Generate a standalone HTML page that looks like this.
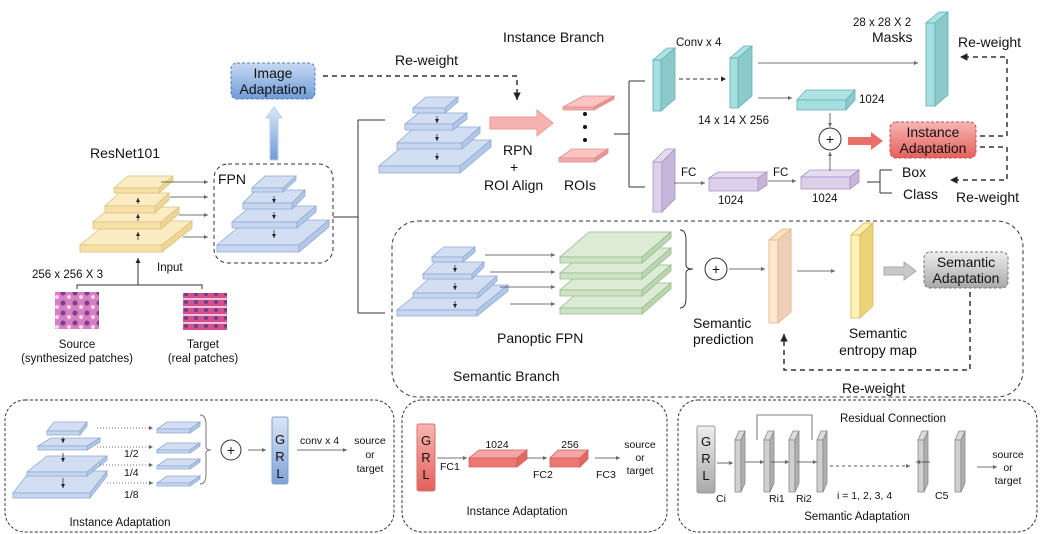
<!DOCTYPE html>
<html><head><meta charset="utf-8"><style>
html,body{margin:0;padding:0;background:#fff;width:1043px;height:534px;overflow:hidden}
svg text{font-family:"Liberation Sans",Arial,sans-serif;fill:#111}
</style></head><body>
<svg id="s" width="1043" height="534" viewBox="0 0 1043 534" xmlns="http://www.w3.org/2000/svg">
<defs>
<marker id="a" markerWidth="6" markerHeight="6" refX="5" refY="3" orient="auto"><path d="M0,0.5 L5,3 L0,5.5z" fill="#222"/></marker>
<marker id="ag" markerWidth="6" markerHeight="6" refX="5" refY="3" orient="auto"><path d="M0,0.5 L5,3 L0,5.5z" fill="#666"/></marker>
<linearGradient id="gb" x1="0" y1="0" x2="0" y2="1"><stop offset="0" stop-color="#c7d9f3"/><stop offset="1" stop-color="#6f9bd6"/></linearGradient>
<linearGradient id="gr" x1="0" y1="0" x2="0" y2="1"><stop offset="0" stop-color="#f7b5b2"/><stop offset="1" stop-color="#e4605c"/></linearGradient>
<linearGradient id="gg" x1="0" y1="0" x2="0" y2="1"><stop offset="0" stop-color="#eeeeee"/><stop offset="1" stop-color="#a8a8a8"/></linearGradient>
<linearGradient id="gbar" x1="0" y1="0" x2="0" y2="1"><stop offset="0" stop-color="#dbe6f6"/><stop offset="1" stop-color="#7ea2d6"/></linearGradient>
<linearGradient id="gy" x1="0" y1="0" x2="0" y2="1"><stop offset="0" stop-color="#fff3c4"/><stop offset="1" stop-color="#f3cd4e"/></linearGradient>
<linearGradient id="gup" x1="0" y1="0" x2="0" y2="1"><stop offset="0" stop-color="#dbe7f7"/><stop offset="1" stop-color="#6f9bd6"/></linearGradient>
<pattern id="p1" width="12" height="10" patternUnits="userSpaceOnUse"><rect width="12" height="10" fill="#d77fc0"/><circle cx="3" cy="3" r="2.5" fill="#7a3f8f"/><circle cx="9" cy="7" r="2" fill="#f4d5ee"/></pattern>
<pattern id="p2" width="10" height="8" patternUnits="userSpaceOnUse"><rect width="10" height="8" fill="#d2508f"/><rect y="2" width="10" height="2" fill="#f5bfd6"/><circle cx="6" cy="6" r="2" fill="#6c3f8a"/></pattern>
</defs>
<g id="shapes"></g>
<g fill="none" stroke="#333" stroke-width="1">
<!-- dashed boxes -->
<rect x="392" y="221" width="631" height="176" rx="26" stroke-dasharray="4,3"/>
<rect x="5" y="400" width="389" height="132" rx="20" stroke-dasharray="3,2"/>
<rect x="402" y="400" width="265" height="132" rx="20" stroke-dasharray="3,2"/>
<rect x="678" y="400" width="359" height="132" rx="20" stroke-dasharray="3,2"/>
<rect x="214" y="164" width="119" height="99" rx="14" stroke-dasharray="4,3"/>
<!-- lines -->
<path d="M333 217 H358 M358 120 V313 M358 120 H385 M358 313 H385"/>
<path d="M614 134 H629 M629 81 V187 M629 81 H645 M629 187 H645"/>
<path d="M867 182 H880 M880 170 V193 M880 170 H892 M880 193 H892"/>
<path d="M77 289 V285 H202 V289 M138 285 V258" marker-end="url(#a)"/>
<path d="M323 76 H517 V100" stroke-dasharray="5,4" stroke-width="1.5" marker-end="url(#a)"/>
<path d="M980 136 H1007 V57 H960" stroke-dasharray="5,4" stroke-width="1.5" marker-end="url(#a)"/>
<path d="M980 147 H1007 V180 H950" stroke-dasharray="5,4" stroke-width="1.5" marker-end="url(#a)"/>
<path d="M970 292 V370 H784 V334" stroke-dasharray="5,4" stroke-width="1.5" marker-end="url(#a)"/>
<path d="M679 79 H726" stroke-dasharray="4,3" marker-end="url(#a)"/>
<path d="M680 230 Q686 230 686 240 V265 Q686 269 693 269 Q686 269 686 273 V298 Q686 308 680 308"/>
<path d="M200 415 Q206 415 206 425 V447 Q206 450 211 450 Q206 450 206 453 V474 Q206 484 200 484" stroke="#777"/>
<path d="M757 440 V415 H812 V440" stroke="#555" stroke-width="0.8"/>
</g>
<g stroke="#444" stroke-width="0.8" fill="none" marker-end="url(#ag)">
<path d="M161 182 H208"/><path d="M170 197 H208"/><path d="M179 215 H208"/><path d="M183 237 H208"/>
<path d="M758 63 H918"/><path d="M758 98 H792"/><path d="M830 113 V127"/><path d="M830 171 V152"/>
<path d="M674 183 H705"/><path d="M768 181 H796"/>
<path d="M485 255 H555"/><path d="M490 272 H555"/><path d="M500 287 H555"/><path d="M510 304 H555"/>
<path d="M729 269 H765"/><path d="M797 271 H835"/>
<path d="M248 450 H266"/><path d="M297 450 H347"/>
<path d="M437 458 H467"/><path d="M527 458 H547"/><path d="M595 458 H620"/>
<path d="M717 463 H733"/><path d="M745 462 H764"/><path d="M771 462 H789"/><path d="M797 462 H817"/><path d="M930 462 H916"/><path d="M977 467 H997"/>
<path d="M97 428 H153" stroke-dasharray="1,2"/><path d="M97 447 H153" stroke-dasharray="1,2"/><path d="M100 465 H153" stroke-dasharray="1,2"/><path d="M107 483 H153" stroke-dasharray="1,2"/>
<path d="M830 466 H910" stroke-dasharray="3,3" stroke="#222"/>
</g>
<!-- plus circles -->
<g fill="#fff" stroke="#333"><circle cx="830" cy="139" r="11"/><circle cx="716" cy="269" r="11"/><circle cx="231" cy="450" r="10"/></g>
<g font-size="14" text-anchor="middle"><text x="830" y="144">+</text><text x="716" y="274">+</text><text x="231" y="455">+</text></g>
<!-- big arrows -->
<path d="M490 117 H537 V110 L553 123 L537 136 V129 H490z" fill="#f5b3b0" stroke="#eb9a96"/>
<path d="M848 137 H871 V132 L883 141 L871 150 V145 H848z" fill="#ec6e68"/>
<path d="M884 267 H904 V262 L916 271 L904 280 V275 H884z" fill="#c8c8c8" stroke="#aaa"/>
<path d="M270 160 V118 H266 L274 107 L282 118 H278 V160z" fill="url(#gup)" stroke="#b9cde9"/>
<!-- adaptation boxes -->
<rect x="231" y="63" width="84" height="36" rx="6" fill="url(#gb)" stroke="#5a7fb5" stroke-dasharray="3,2"/>
<rect x="890" y="122" width="86" height="36" rx="6" fill="url(#gr)" stroke="#c94a46" stroke-dasharray="3,2"/>
<rect x="924" y="252" width="84" height="36" rx="6" fill="url(#gg)" stroke="#777" stroke-dasharray="3,2"/>
<!-- patches -->
<rect x="55" y="292" width="44" height="37" fill="url(#p1)"/>
<rect x="183" y="293" width="44" height="37" fill="url(#p2)"/>
<!-- GRL bars -->
<rect x="272" y="417" width="16" height="67" rx="2" fill="url(#gbar)" stroke="#7f9fcf"/>
<rect x="417" y="424" width="18" height="67" rx="2" fill="url(#gr)" stroke="#d9716c"/>
<rect x="697" y="426" width="18" height="67" rx="2" fill="url(#gg)" stroke="#999"/>
<!-- ROI dots -->
<g fill="#111"><circle cx="585" cy="114" r="2"/><circle cx="585" cy="127" r="2"/><circle cx="585" cy="140" r="2"/></g>
<!-- text -->
<g font-size="14">
<text x="503" y="42">Instance Branch</text>
<text x="395" y="65">Re-weight</text>
<text x="90" y="158">ResNet101</text>
<text x="218" y="184">FPN</text>
<text x="503" y="155">RPN</text>
<text x="510" y="172">+</text>
<text x="484" y="190">ROI Align</text>
<text x="564" y="190">ROIs</text>
<text x="872" y="42">Masks</text>
<text x="958" y="47">Re-weight</text>
<text x="902" y="177">Box</text>
<text x="903" y="199">Class</text>
<text x="956" y="202">Re-weight</text>
<text x="497" y="343">Panoptic FPN</text>
<text x="453" y="381">Semantic Branch</text>
<text x="693" y="328">Semantic</text>
<text x="693" y="344">prediction</text>
<text x="878" y="338" text-anchor="middle">Semantic</text>
<text x="878" y="355" text-anchor="middle">entropy map</text>
<text x="842" y="393">Re-weight</text>
<text x="273" y="78" text-anchor="middle">Image</text>
<text x="273" y="94" text-anchor="middle">Adaptation</text>
<text x="933" y="137" text-anchor="middle" fill="#222">Instance</text>
<text x="933" y="153" text-anchor="middle" fill="#222">Adaptation</text>
<text x="966" y="267" text-anchor="middle">Semantic</text>
<text x="966" y="283" text-anchor="middle">Adaptation</text>
</g>
<g font-size="11.5">
<text x="676" y="46">Conv x 4</text>
<text x="698" y="124">14 x 14 X 256</text>
<text x="859" y="103">1024</text>
<text x="853" y="26">28 x 28 X 2</text>
<text x="681" y="176">FC</text><text x="773" y="176">FC</text>
<text x="718" y="204">1024</text><text x="812" y="202">1024</text>
<text x="157" y="271">Input</text>
<text x="32" y="278">256 x 256 X 3</text>
<text x="77" y="348" text-anchor="middle">Source</text>
<text x="77" y="362" text-anchor="middle">(synthesized patches)</text>
<text x="203" y="348" text-anchor="middle">Target</text>
<text x="203" y="362" text-anchor="middle">(real patches)</text>
<text x="120" y="526" text-anchor="middle">Instance Adaptation</text>
<text x="517" y="515" text-anchor="middle">Instance Adaptation</text>
<text x="857" y="520" text-anchor="middle">Semantic Adaptation</text>
<text x="893" y="422" text-anchor="middle">Residual Connection</text>
</g>
<g font-size="10.5">
<text x="124" y="457">1/2</text><text x="124" y="476">1/4</text><text x="124" y="498">1/8</text>
<text x="300" y="444">conv x 4</text>
<text x="370" y="444" text-anchor="middle">source</text><text x="370" y="458" text-anchor="middle">or</text><text x="370" y="472" text-anchor="middle">target</text>
<text x="497" y="448" text-anchor="middle">1024</text><text x="570" y="448" text-anchor="middle">256</text>
<text x="440" y="470">FC1</text><text x="533" y="478">FC2</text><text x="596" y="478">FC3</text>
<text x="640" y="448" text-anchor="middle">source</text><text x="640" y="461" text-anchor="middle">or</text><text x="640" y="474" text-anchor="middle">target</text>
<text x="1008" y="458" text-anchor="middle">source</text><text x="1008" y="471" text-anchor="middle">or</text><text x="1008" y="484" text-anchor="middle">target</text>
<text x="716" y="502">Ci</text><text x="769" y="502">Ri1</text><text x="796" y="502">Ri2</text>
<text x="837" y="499">i = 1, 2, 3, 4</text><text x="935" y="499">C5</text>
</g>
<g font-size="13" text-anchor="middle">
<text x="280" y="444">G</text><text x="280" y="461">R</text><text x="280" y="478">L</text>
<text x="426" y="445">G</text><text x="426" y="462">R</text><text x="426" y="479">L</text>
<text x="706" y="446">G</text><text x="706" y="463">R</text><text x="706" y="480">L</text>
</g>
</svg>
<script>
var g=document.getElementById('shapes'),NS='http://www.w3.org/2000/svg';
function P(pts,f,s){var p=document.createElementNS(NS,'polygon');p.setAttribute('points',pts.map(function(a){return a.join(',')}).join(' '));p.setAttribute('fill',f);p.setAttribute('stroke',s);p.setAttribute('stroke-width','0.8');g.appendChild(p);}
function S(x,y,w,h,dx,dy,c){P([[x,y],[x+w,y],[x+w+dx,y-dy],[x+dx,y-dy]],c[0],c[3]);P([[x,y],[x+w,y],[x+w,y+h],[x,y+h]],c[1],c[3]);P([[x+w,y],[x+w+dx,y-dy],[x+w+dx,y-dy+h],[x+w,y+h]],c[2],c[3]);}
function A(x1,y1,x2,y2){var l=document.createElementNS(NS,'line');l.setAttribute('x1',x1);l.setAttribute('y1',y1);l.setAttribute('x2',x2);l.setAttribute('y2',y2);l.setAttribute('stroke','#333');l.setAttribute('stroke-width','0.8');l.setAttribute('marker-end','url(#a)');g.appendChild(l);}
var Y=['#fbecc4','#f6e0a8','#eed596','#d9c27e'],B=['#d2def2','#c6d6ef','#b3c7e6','#8fa9d3'],G=['#dcebd4','#cfe3c6','#bcd6b1','#96b98a'],R=['#f9c4c2','#f3aaa7','#e89592','#e08b8b'],T=['#aee3e4','#a6dfe0','#8cc9cb','#5fb0b3'],U=['#e6dcef','#ddd0ea','#c7b6da','#a693c3'],O=['#fde2c2','#fde7cf','#efcfb7','#e0b47a'],YY=['#fdf0b0','#fff1b8','#ecd27a','#d8b84a'],GR=['#dcdcdc','#d0d0d0','#b0b0b0','#888'],RB=['#f4a7a4','#ec7773','#e06965','#d0605c'];
// ResNet
S(80,245,82,7,30,24,Y);S(93,222,68,7,18,15,Y);S(105,206,50,7,14,13,Y);S(114,188,45,5,14,12,Y);
A(138,240,138,232);A(138,221,138,214);A(138,204,138,198);
// FPN
S(217,245,82,7,30,25,B);S(232,222,65,6,19,16,B);S(243,203,49,6,13,13,B);S(252,188,31,4,13,12,B);
A(274,196,274,203);A(274,212,274,219);A(274,230,274,238);
// instance pyramid
S(379,166,81,7,31,26,B);S(397,143,65,6,18,16,B);S(405,124,48,6,14,11,B);S(413,108,32,5,13,11,B);
A(437,116,437,123);A(437,134,437,141);A(437,153,437,160);
// panoptic pyramid
S(397,310,80,6,31,25,B);S(413,293,65,5,19,17,B);S(423,274,49,5,12,12,B);S(432,257,31,5,12,10,B);
A(455,265,455,272);A(455,283,455,290);A(455,301,455,308);
// green
S(560,308,82,6,29,25,G);S(560,290,82,6,29,25,G);S(560,273,82,6,29,25,G);S(560,257,82,6,29,25,G);
// ROIs
S(563,107,31,3,20,11,R);S(559,158,36,4,13,9,R);
// teal & purple
S(653,60,8,51,14,12,T);S(730,58,8,50,14,12,T);S(926,23,9,83,13,11,T);S(797,100,49,10,9,10,T);
S(653,162,9,50,13,13,U);S(709,178,49,13,9,6,U);S(801,177,49,12,9,7,U);
S(769,240,9,83,13,11,O);S(851,235,9,83,13,12,YY);
// bottom panel 1
S(13,493,77,5,17,22,B);S(27,472,60,4,20,16,B);S(38,446,49,4,13,8,B);S(47,431,33,4,7,9,B);
A(63,437,63,443);A(63,453,63,462);A(63,478,63,488);
S(157,429,33,4,10,7,B);S(157,450,33,3,10,7,B);S(157,466,33,3,10,7,B);S(157,483,33,3,10,7,B);
// bottom panel 2
S(469,458,48,9,10,8,RB);S(550,458,30,9,8,8,RB);
// bottom panel 3
[735,764,789,817,918,955].forEach(function(x){S(x,440,6,52,4,9,GR);});
</script>
</body></html>
